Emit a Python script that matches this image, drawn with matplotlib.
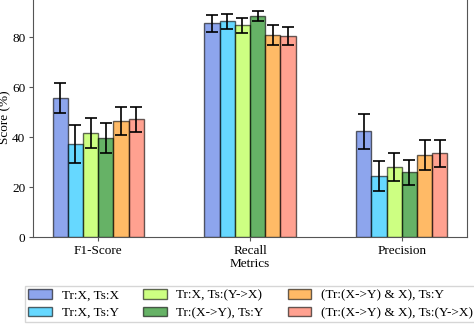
import matplotlib
matplotlib.use("Agg")
import matplotlib.pyplot as plt
import numpy as np

plt.rcParams['font.family'] = ['Liberation Serif', 'DejaVu Serif']

metrics = ["F1-Score", "Recall", "Precision"]
series = ["Tr:X, Ts:X", "Tr:X, Ts:Y", "Tr:X, Ts:(Y->X)",
          "Tr:(X->Y), Ts:Y", "(Tr:(X->Y) & X), Ts:Y", "(Tr:(X->Y) & X), Ts:(Y->X)"]
colors = ["royalblue", "deepskyblue", "greenyellow", "green", "darkorange", "tomato"]

means = [
    [55.7, 85.5, 42.3],
    [37.3, 86.4, 24.4],
    [41.6, 84.7, 28.1],
    [39.6, 88.3, 25.9],
    [46.3, 80.9, 32.8],
    [47.2, 80.5, 33.5],
]
errs = [
    [6.0, 3.3, 7.0],
    [7.5, 3.0, 6.0],
    [6.0, 3.0, 5.5],
    [6.0, 2.0, 5.0],
    [5.6, 4.0, 6.0],
    [5.0, 3.5, 5.4],
]

fig = plt.figure(figsize=(4.74, 3.26), dpi=100)
ax = fig.add_axes([33/474, 1-237/326, (467-33)/474, 240/326])

x = np.arange(len(metrics))
w = 0.1
for i, (s, c) in enumerate(zip(series, colors)):
    ax.bar(x + (i - 2.5) * w, means[i], w, yerr=errs[i], color=c, alpha=0.6,
           edgecolor="black", linewidth=1.0, label=s,
           error_kw=dict(ecolor="black", capsize=4.5, elinewidth=1.2, capthick=1.2, alpha=1))

fs = 9.5
ax.set_xticks(x)
ax.set_xticklabels(metrics, fontsize=fs)
ax.set_ylim(0, 96)
ax.set_yticks([0, 20, 40, 60, 80])
ax.tick_params(axis='both', labelsize=fs, length=3, pad=2.5, color="#555555")
ax.set_ylabel("Score (%)", fontsize=fs)
ax.yaxis.set_label_coords(-0.05, 0.5)
ax.set_xlabel("Metrics", fontsize=fs, labelpad=1)
for sp in ax.spines.values():
    sp.set_color("#555555")

ax.legend(loc="upper left", bbox_to_anchor=(25/474, 1-286/326), bbox_transform=fig.transFigure,
          ncol=3, fontsize=fs, frameon=True, fancybox=False, edgecolor="#cccccc",
          handlelength=1.8, handletextpad=0.75, columnspacing=1.8, labelspacing=0.4,
          borderpad=0.25, borderaxespad=0)

fig.savefig("out.png", dpi=100)
